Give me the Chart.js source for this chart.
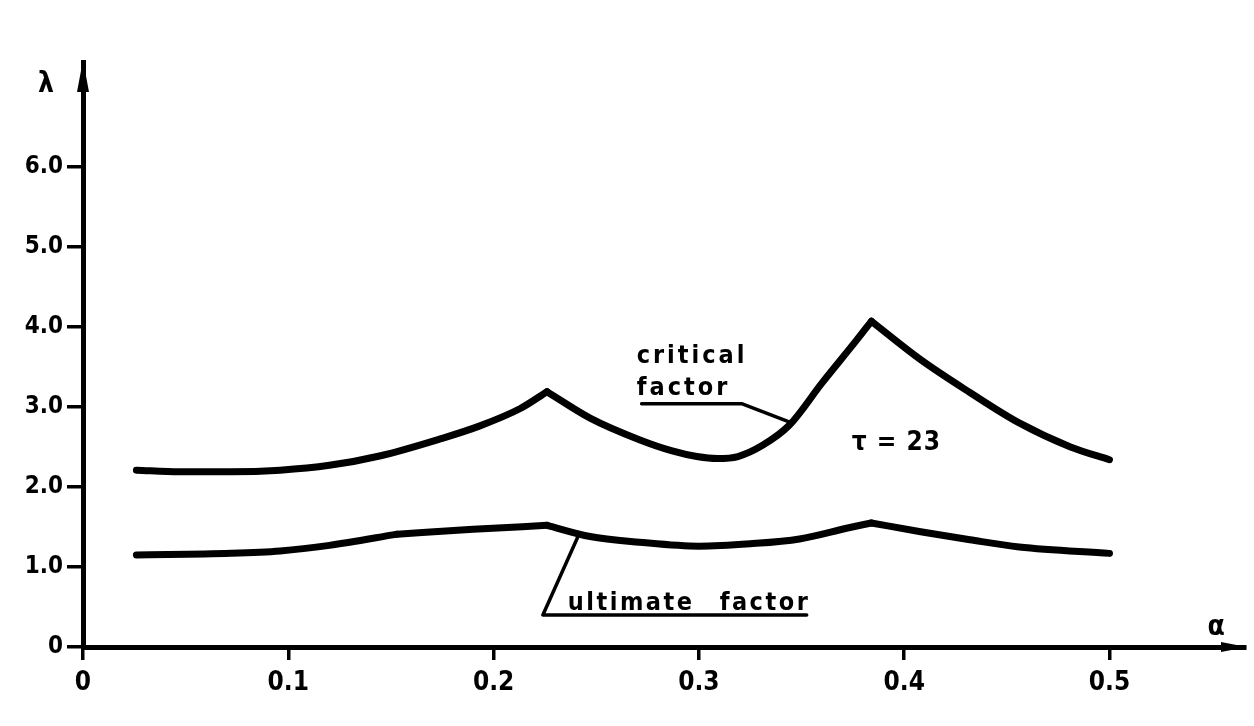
<!DOCTYPE html>
<html>
<head>
<meta charset="utf-8">
<script src="https://cdn.jsdelivr.net/npm/chart.js@4.4.1/dist/chart.umd.min.js"></script>
<style>
html,body{margin:0;padding:0;background:#fff;}
canvas{display:block;}
</style>
</head>
<body>
<canvas id="c" width="1254" height="726"></canvas>
<script>
// ---- data ----
const criticalX = [0.026,0.047,0.072,0.096,0.12,0.145,0.174,0.193,0.213,0.226,0.247,0.271,0.287,0.299,0.309,0.319,0.331,0.344,0.36,0.377,0.384,0.408,0.432,0.456,0.481,0.5];
const criticalY = [2.21,2.19,2.19,2.21,2.27,2.39,2.6,2.76,2.98,3.19,2.86,2.59,2.45,2.38,2.355,2.38,2.52,2.77,3.3,3.84,4.07,3.59,3.18,2.8,2.5,2.34];
const criticalPeaks = [9, 20];   // indices of the sharp corners

const ultimateX = [0.026,0.072,0.096,0.12,0.153,0.19,0.226,0.247,0.271,0.3,0.325,0.349,0.373,0.384,0.408,0.432,0.456,0.5];
const ultimateY = [1.15,1.17,1.2,1.27,1.41,1.47,1.52,1.38,1.31,1.26,1.29,1.35,1.49,1.55,1.44,1.34,1.25,1.17];
const ultimatePeaks = [4, 6, 13];

const xTicks = [0, 0.1, 0.2, 0.3, 0.4, 0.5];
const yTicks = [0, 1, 2, 3, 4, 5, 6];
const xTickLabels = ['0','0.1','0.2','0.3','0.4','0.5'];
const yTickLabels = ['0','1.0','2.0','3.0','4.0','5.0','6.0'];

const FONT = "'DejaVu Sans Condensed','Liberation Sans Narrow','DejaVu Sans',sans-serif";

function segments(xs, ys, breaks){
  const cuts = [0, ...breaks, xs.length-1];
  const out = [];
  for(let k=0;k<cuts.length-1;k++){
    const seg = [];
    for(let i=cuts[k];i<=cuts[k+1];i++) seg.push({x:xs[i], y:ys[i]});
    out.push(seg);
  }
  return out;
}

const datasets = [];
segments(criticalX, criticalY, criticalPeaks).forEach(d => datasets.push({data:d}));
segments(ultimateX, ultimateY, ultimatePeaks).forEach(d => datasets.push({data:d}));
datasets.forEach(d => Object.assign(d, {
  borderColor:'#000', borderWidth:7, pointRadius:0, cubicInterpolationMode:'monotone',
  borderCapStyle:'round', borderJoinStyle:'round', fill:false
}));

const annot = {
  id:'annot',
  afterDraw(chart){
    const ctx = chart.ctx, xs = chart.scales.x, ys = chart.scales.y;
    const P = (x,y) => [xs.getPixelForValue(x), ys.getPixelForValue(y)];
    const area = chart.chartArea;
    ctx.save();
    ctx.fillStyle = '#000'; ctx.strokeStyle = '#000';
    // axis arrows
    ctx.beginPath();
    ctx.moveTo(area.left, area.top-2);
    ctx.lineTo(area.left-6, area.top+30);
    ctx.lineTo(area.left+6, area.top+30);
    ctx.closePath(); ctx.fill();
    ctx.beginPath();
    const ay = ys.getPixelForValue(0);
    ctx.moveTo(area.right+2, ay);
    ctx.lineTo(area.right-24, ay-5);
    ctx.lineTo(area.right-24, ay+5);
    ctx.closePath(); ctx.fill();

    const text = (s, x, y, size, spacing) => {
      ctx.font = 'bold ' + size + 'px ' + FONT;
      if ('letterSpacing' in ctx) ctx.letterSpacing = (spacing||0) + 'px';
      ctx.textAlign = 'left'; ctx.textBaseline = 'alphabetic';
      const p = P(x,y);
      ctx.fillText(s, p[0], p[1]);
    };
    const line = (pts, w) => {
      ctx.lineWidth = w; ctx.lineCap='round'; ctx.lineJoin='round';
      ctx.beginPath();
      pts.forEach((q,i) => { const p = P(q[0],q[1]); i?ctx.lineTo(p[0],p[1]):ctx.moveTo(p[0],p[1]); });
      ctx.stroke();
    };
    // critical factor label
    text('critical', 0.2697, 3.55, 25, 3);
    text('factor', 0.2697, 3.15, 25, 3);
    line([[0.2721,3.04],[0.3208,3.04],[0.3452,2.8]], 3.5);
    // ultimate factor label
    text('ultimate', 0.2361, 0.46, 25, 2.5);
    text('factor', 0.3101, 0.46, 25, 2.5);
    line([[0.241,1.375],[0.224,0.40],[0.3525,0.40]], 3.5);
    // tau
    text('\u03C4 = 23', 0.3744, 2.46, 26, 1);
    // axis titles
    text('\u03BB', -0.0219, 6.94, 28, 0);
    text('\u03B1', 0.5477, 0.15, 28, 0);
    ctx.restore();
  }
};

new Chart(document.getElementById('c'), {
  type:'line',
  data:{datasets},
  plugins:[annot],
  options:{
    responsive:false, animation:false, devicePixelRatio:1,
    layout:{padding:{top:62, right:9, left:0, bottom:0}},
    plugins:{legend:{display:false}, tooltip:{enabled:false}},
    scales:{
      x:{
        type:'linear', min:0, max:0.566,
        afterFit(s){ s.height = 79; },
        afterBuildTicks(s){ s.ticks = xTicks.map(v => ({value:v})); },
        ticks:{
          callback:(v) => { const i = xTicks.findIndex(t => Math.abs(t-v)<1e-9); return i<0?'':xTickLabels[i]; },
          color:'#000', font:{family:FONT, size:26, weight:'bold'}, padding:8, maxRotation:0, autoSkip:false
        },
        grid:{drawOnChartArea:false, drawTicks:true, tickLength:13, color:'#000', lineWidth:3.5},
        border:{display:true, color:'#000', width:5}
      },
      y:{
        type:'linear', min:0, max:7.31,
        afterFit(s){ s.width = 83; },
        afterBuildTicks(s){ s.ticks = yTicks.map(v => ({value:v})); },
        ticks:{
          callback:(v) => { const i = yTicks.findIndex(t => Math.abs(t-v)<1e-9); return i<0?'':yTickLabels[i]; },
          color:'#000', font:{family:FONT, size:24, weight:'bold'}, padding:4, autoSkip:false
        },
        grid:{drawOnChartArea:false, drawTicks:true, tickLength:16, color:'#000', lineWidth:3.5},
        border:{display:true, color:'#000', width:5}
      }
    }
  }
});
</script>
</body>
</html>
